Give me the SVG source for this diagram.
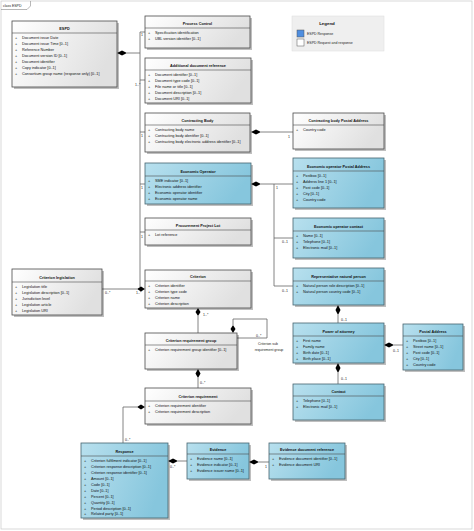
<svg xmlns="http://www.w3.org/2000/svg" width="474" height="531" viewBox="0 0 474 531">
<defs>
<linearGradient id="gw" x1="0" y1="0" x2="1" y2="0.3"><stop offset="0" stop-color="#ffffff"/><stop offset="1" stop-color="#e0e0e0"/></linearGradient>
<linearGradient id="gb" x1="0" y1="0" x2="1" y2="0.3"><stop offset="0" stop-color="#b8e0ee"/><stop offset="1" stop-color="#86c6dd"/></linearGradient>
<style>
.sh{fill:#000;opacity:0.25}
.w{fill:url(#gw);stroke:#4a4a4a;stroke-width:0.8}
.b{fill:url(#gb);stroke:#46646f;stroke-width:0.8}
.hl{stroke:#4a4a4a;stroke-width:0.6}
.t{font-family:"Liberation Sans",Arial,sans-serif;font-size:3.8px;fill:#111}
.tt{font-weight:bold;text-anchor:middle}
.l{font-family:"Liberation Sans",Arial,sans-serif;font-size:3.5px;fill:#222}
.c{fill:none;stroke:#666;stroke-width:0.8}
.d{fill:#000}
</style>
</defs>
<rect x="0" y="0" width="474" height="531" fill="#ffffff"/>
<g id="frame">
<rect x="1" y="1" width="471" height="528" fill="none" stroke="#c8c8c8" stroke-width="0.7"/>
<path d="M1,9.5 H27 L30.5,6 V1" fill="none" stroke="#888" stroke-width="0.6"/>
<text class="l" x="3" y="6.5">class ESPD</text>
</g>
<g id="legend">
<rect x="292" y="16" width="92" height="35" fill="#efefef" stroke="#dcdcdc" stroke-width="0.5"/>
<text class="t tt" x="327" y="24.5" style="font-size:4.4px">Legend</text>
<rect x="297" y="30" width="7" height="7" fill="#4f8ee0" stroke="#555" stroke-width="0.5"/>
<rect x="297" y="39" width="7" height="7" fill="#ffffff" stroke="#555" stroke-width="0.5"/>
<text class="l" x="307" y="35">ESPD Response</text>
<text class="l" x="307" y="44">ESPD Request and response</text>
</g>
<g id="connectors">
<path class="c" d="M127,53 H140 M140,32 V287 M140,32 H145 M140,80 H145 M140,132 H145 M140,184 H145 M140,232 H145"/>
<path class="d" d="M117,53 L122,50.5 L127,53 L122,55.5 Z"/>
<text class="l" x="141" y="36">1</text>
<text class="l" x="135" y="86">1..*</text>
<text class="l" x="141" y="137">1</text>
<text class="l" x="141" y="189">1</text>
<text class="l" x="141" y="238">1</text>
<path class="c" d="M261,132 H293"/>
<path class="d" d="M251,132 L256,129.5 L261,132 L256,134.5 Z"/>
<text class="l" x="288" y="138">1</text>
<path class="c" d="M261,184 H293 M274,184 V286 M274,238 H293 M274,286 H293"/>
<path class="d" d="M251,184 L256,181.5 L261,184 L256,186.5 Z"/>
<text class="l" x="276" y="189">1</text>
<text class="l" x="282" y="243">0..1</text>
<text class="l" x="282" y="292">0..1</text>
<path class="c" d="M102,289 H137"/>
<path class="d" d="M137,289 L141,286.5 L145,289 L141,291.5 Z"/>
<text class="l" x="105" y="294">0..*</text>
<text class="l" x="136" y="294">1..*</text>
<path class="c" d="M198,316 V333"/>
<path class="d" d="M198,308 L200.5,312 L198,316 L195.5,312 Z"/>
<text class="l" x="203" y="316">1..*</text>
<path class="c" d="M233,325 V319 H267 V338 H237"/>
<path class="d" d="M233,325 L235.5,329 L233,333 L230.5,329 Z"/>
<text class="l" x="256" y="337">0..*</text>
<text class="l" x="268" y="345" text-anchor="middle">Criterion sub</text>
<text class="l" x="269" y="351" text-anchor="middle">requirement group</text>
<path class="c" d="M198,378 V388"/>
<path class="d" d="M198,369 L200.5,373.5 L198,378 L195.5,373.5 Z"/>
<text class="l" x="200" y="384">0..*</text>
<path class="c" d="M137,407 H123 V443"/>
<path class="d" d="M137,407 L141,404.5 L145,407 L141,409.5 Z"/>
<text class="l" x="125" y="441">0..*</text>
<path class="c" d="M178,461 H187"/>
<path class="d" d="M168,461 L173,458.5 L178,461 L173,463.5 Z"/>
<text class="l" x="170" y="468">0..*</text>
<path class="c" d="M259,462 H269"/>
<path class="d" d="M249,462 L254,459.5 L259,462 L254,464.5 Z"/>
<text class="l" x="265" y="468">1</text>
<path class="c" d="M338,315 V323"/>
<path class="d" d="M338,305 L340.5,310 L338,315 L335.5,310 Z"/>
<text class="l" x="341" y="321">0..1</text>
<path class="c" d="M394,345 H403"/>
<path class="d" d="M384,345 L389,342.5 L394,345 L389,347.5 Z"/>
<text class="l" x="393" y="352">0..1</text>
<path class="c" d="M338,373 V384"/>
<path class="d" d="M338,363 L340.5,368 L338,373 L335.5,368 Z"/>
<text class="l" x="341" y="380">0..1</text>
</g>
<g id="espd">
<rect class="sh" x="14" y="23" width="105" height="66"/>
<rect class="w" x="12" y="21" width="105" height="66"/>
<line class="hl" x1="12" y1="33" x2="117" y2="33"/>
<text class="t tt" x="64.5" y="29.5">ESPD</text>
<text class="t" x="15" y="39.35">+</text><text class="t" x="22" y="39.35">Document issue Date</text>
<text class="t" x="15" y="45.25">+</text><text class="t" x="22" y="45.25">Document issue Time [0..1]</text>
<text class="t" x="15" y="51.15">+</text><text class="t" x="22" y="51.15">Reference Number</text>
<text class="t" x="15" y="57.05">+</text><text class="t" x="22" y="57.05">Document version ID [0..1]</text>
<text class="t" x="15" y="62.95">+</text><text class="t" x="22" y="62.95">Document identifier</text>
<text class="t" x="15" y="68.85">+</text><text class="t" x="22" y="68.85">Copy indicator [0..1]</text>
<text class="t" x="15" y="74.75">+</text><text class="t" x="22" y="74.75">Consortium group name (response only) [0..1]</text>
</g>
<g id="process-control">
<rect class="sh" x="147" y="18" width="105" height="32"/>
<rect class="w" x="145" y="16" width="105" height="32"/>
<line class="hl" x1="145" y1="28" x2="250" y2="28"/>
<text class="t tt" x="197.5" y="24.5">Process Control</text>
<text class="t" x="148" y="34.35">+</text><text class="t" x="155" y="34.35">Specification identification</text>
<text class="t" x="148" y="40.25">+</text><text class="t" x="155" y="40.25">UBL version identifier [0..1]</text>
</g>
<g id="additional-document-reference">
<rect class="sh" x="147" y="60" width="106" height="45"/>
<rect class="w" x="145" y="58" width="106" height="45"/>
<line class="hl" x1="145" y1="70" x2="251" y2="70"/>
<text class="t tt" x="198" y="66.5">Additional document reference</text>
<text class="t" x="148" y="76.35">+</text><text class="t" x="155" y="76.35">Document identifier [0..1]</text>
<text class="t" x="148" y="82.25">+</text><text class="t" x="155" y="82.25">Document type code [0..1]</text>
<text class="t" x="148" y="88.15">+</text><text class="t" x="155" y="88.15">File name or title [0..1]</text>
<text class="t" x="148" y="94.05">+</text><text class="t" x="155" y="94.05">Document description [0..1]</text>
<text class="t" x="148" y="99.95">+</text><text class="t" x="155" y="99.95">Document URI [0..1]</text>
</g>
<g id="contracting-body">
<rect class="sh" x="147" y="115" width="105" height="39"/>
<rect class="w" x="145" y="113" width="105" height="39"/>
<line class="hl" x1="145" y1="125" x2="250" y2="125"/>
<text class="t tt" x="197.5" y="121.5">Contracting Body</text>
<text class="t" x="148" y="131.35">+</text><text class="t" x="155" y="131.35">Contracting body name</text>
<text class="t" x="148" y="137.25">+</text><text class="t" x="155" y="137.25">Contracting body identifier [0..1]</text>
<text class="t" x="148" y="143.15">+</text><text class="t" x="155" y="143.15">Contracting body electronic address identifier [0..1]</text>
</g>
<g id="contracting-body-postal-address">
<rect class="sh" x="295" y="115" width="91" height="36"/>
<rect class="w" x="293" y="113" width="91" height="36"/>
<line class="hl" x1="293" y1="125" x2="384" y2="125"/>
<text class="t tt" x="338.5" y="121.5">Contracting body Postal Address</text>
<text class="t" x="296" y="131.35">+</text><text class="t" x="303" y="131.35">Country code</text>
</g>
<g id="economic-operator">
<rect class="sh" x="147" y="165" width="106" height="41"/>
<rect class="b" x="145" y="163" width="106" height="41"/>
<line class="hl" x1="145" y1="176" x2="251" y2="176"/>
<text class="t tt" x="198" y="172.5">Economic Operator</text>
<text class="t" x="148" y="182.35">+</text><text class="t" x="155" y="182.35">SME indicator [0..1]</text>
<text class="t" x="148" y="188.25">+</text><text class="t" x="155" y="188.25">Electronic address identifier</text>
<text class="t" x="148" y="194.15">+</text><text class="t" x="155" y="194.15">Economic operator identifier</text>
<text class="t" x="148" y="200.05">+</text><text class="t" x="155" y="200.05">Economic operator name</text>
</g>
<g id="economic-operator-postal-address">
<rect class="sh" x="295" y="160" width="91" height="50"/>
<rect class="b" x="293" y="158" width="91" height="50"/>
<line class="hl" x1="293" y1="171" x2="384" y2="171"/>
<text class="t tt" x="338.5" y="167.5">Economic operator Postal Address</text>
<text class="t" x="296" y="177.35">+</text><text class="t" x="303" y="177.35">Postbox [0..1]</text>
<text class="t" x="296" y="183.25">+</text><text class="t" x="303" y="183.25">Address line 1 [0..1]</text>
<text class="t" x="296" y="189.15">+</text><text class="t" x="303" y="189.15">Post code [0..1]</text>
<text class="t" x="296" y="195.05">+</text><text class="t" x="303" y="195.05">City [0..1]</text>
<text class="t" x="296" y="200.95">+</text><text class="t" x="303" y="200.95">Country code</text>
</g>
<g id="economic-operator-contact">
<rect class="sh" x="295" y="220" width="91" height="40"/>
<rect class="b" x="293" y="218" width="91" height="40"/>
<line class="hl" x1="293" y1="231" x2="384" y2="231"/>
<text class="t tt" x="338.5" y="227.5">Economic operator contact</text>
<text class="t" x="296" y="237.35">+</text><text class="t" x="303" y="237.35">Name [0..1]</text>
<text class="t" x="296" y="243.25">+</text><text class="t" x="303" y="243.25">Telephone [0..1]</text>
<text class="t" x="296" y="249.15">+</text><text class="t" x="303" y="249.15">Electronic mail [0..1]</text>
</g>
<g id="procurement-project-lot">
<rect class="sh" x="147" y="220" width="106" height="27"/>
<rect class="w" x="145" y="218" width="106" height="27"/>
<line class="hl" x1="145" y1="230" x2="251" y2="230"/>
<text class="t tt" x="198" y="226.5">Procurement Project Lot</text>
<text class="t" x="148" y="236.35">+</text><text class="t" x="155" y="236.35">Lot reference</text>
</g>
<g id="criterion-legislation">
<rect class="sh" x="14" y="271" width="90" height="46"/>
<rect class="w" x="12" y="269" width="90" height="46"/>
<line class="hl" x1="12" y1="282" x2="102" y2="282"/>
<text class="t tt" x="57" y="278.5">Criterion legislation</text>
<text class="t" x="15" y="288.35">+</text><text class="t" x="22" y="288.35">Legislation title</text>
<text class="t" x="15" y="294.25">+</text><text class="t" x="22" y="294.25">Legislation description [0..1]</text>
<text class="t" x="15" y="300.15">+</text><text class="t" x="22" y="300.15">Jurisdiction level</text>
<text class="t" x="15" y="306.05">+</text><text class="t" x="22" y="306.05">Legislation article</text>
<text class="t" x="15" y="311.95">+</text><text class="t" x="22" y="311.95">Legislation URI</text>
</g>
<g id="criterion">
<rect class="sh" x="147" y="272" width="106" height="38"/>
<rect class="w" x="145" y="270" width="106" height="38"/>
<line class="hl" x1="145" y1="281" x2="251" y2="281"/>
<text class="t tt" x="198" y="277.5">Criterion</text>
<text class="t" x="148" y="287.35">+</text><text class="t" x="155" y="287.35">Criterion identifier</text>
<text class="t" x="148" y="293.25">+</text><text class="t" x="155" y="293.25">Criterion type code</text>
<text class="t" x="148" y="299.15">+</text><text class="t" x="155" y="299.15">Criterion name</text>
<text class="t" x="148" y="305.05">+</text><text class="t" x="155" y="305.05">Criterion description</text>
</g>
<g id="criterion-requirement-group">
<rect class="sh" x="147" y="335" width="92" height="36"/>
<rect class="w" x="145" y="333" width="92" height="36"/>
<line class="hl" x1="145" y1="345" x2="237" y2="345"/>
<text class="t tt" x="191" y="341.5">Criterion requirement group</text>
<text class="t" x="148" y="351.35">+</text><text class="t" x="155" y="351.35">Criterion requirement group identifier [0..1]</text>
</g>
<g id="criterion-requirement">
<rect class="sh" x="147" y="390" width="106" height="36"/>
<rect class="w" x="145" y="388" width="106" height="36"/>
<line class="hl" x1="145" y1="401" x2="251" y2="401"/>
<text class="t tt" x="198" y="397.5">Criterion requirement</text>
<text class="t" x="148" y="407.35">+</text><text class="t" x="155" y="407.35">Criterion requirement identifier</text>
<text class="t" x="148" y="413.25">+</text><text class="t" x="155" y="413.25">Criterion requirement description</text>
</g>
<g id="response">
<rect class="sh" x="83" y="445" width="87" height="75"/>
<rect class="b" x="81" y="443" width="87" height="75"/>
<line class="hl" x1="81" y1="456" x2="168" y2="456"/>
<text class="t tt" x="124.5" y="452.5">Response</text>
<text class="t" x="84" y="462.35">+</text><text class="t" x="91" y="462.35">Criterion fulfilment indicator [0..1]</text>
<text class="t" x="84" y="468.25">+</text><text class="t" x="91" y="468.25">Criterion response description [0..1]</text>
<text class="t" x="84" y="474.15">+</text><text class="t" x="91" y="474.15">Criterion response identifier [0..1]</text>
<text class="t" x="84" y="480.05">+</text><text class="t" x="91" y="480.05">Amount [0..1]</text>
<text class="t" x="84" y="485.95">+</text><text class="t" x="91" y="485.95">Code [0..1]</text>
<text class="t" x="84" y="491.85">+</text><text class="t" x="91" y="491.85">Date [0..1]</text>
<text class="t" x="84" y="497.75">+</text><text class="t" x="91" y="497.75">Percent [0..1]</text>
<text class="t" x="84" y="503.65">+</text><text class="t" x="91" y="503.65">Quantity [0..1]</text>
<text class="t" x="84" y="509.55">+</text><text class="t" x="91" y="509.55">Period description [0..1]</text>
<text class="t" x="84" y="515.45">+</text><text class="t" x="91" y="515.45">Related party [0..1]</text>
</g>
<g id="evidence">
<rect class="sh" x="189" y="445" width="62" height="36"/>
<rect class="b" x="187" y="443" width="62" height="36"/>
<line class="hl" x1="187" y1="454" x2="249" y2="454"/>
<text class="t tt" x="218" y="450.5">Evidence</text>
<text class="t" x="190" y="460.35">+</text><text class="t" x="197" y="460.35">Evidence name [0..1]</text>
<text class="t" x="190" y="466.25">+</text><text class="t" x="197" y="466.25">Evidence indicator [0..1]</text>
<text class="t" x="190" y="472.15">+</text><text class="t" x="197" y="472.15">Evidence issuer name [0..1]</text>
</g>
<g id="evidence-document-reference">
<rect class="sh" x="271" y="445" width="76" height="36"/>
<rect class="b" x="269" y="443" width="76" height="36"/>
<line class="hl" x1="269" y1="454" x2="345" y2="454"/>
<text class="t tt" x="307" y="450.5">Evidence document reference</text>
<text class="t" x="272" y="460.35">+</text><text class="t" x="279" y="460.35">Evidence document identifier [0..1]</text>
<text class="t" x="272" y="466.25">+</text><text class="t" x="279" y="466.25">Evidence document URI</text>
</g>
<g id="representative-natural-person">
<rect class="sh" x="295" y="270" width="91" height="37"/>
<rect class="b" x="293" y="268" width="91" height="37"/>
<line class="hl" x1="293" y1="281" x2="384" y2="281"/>
<text class="t tt" x="338.5" y="277.5">Representative natural person</text>
<text class="t" x="296" y="287.35">+</text><text class="t" x="303" y="287.35">Natural person role description [0..1]</text>
<text class="t" x="296" y="293.25">+</text><text class="t" x="303" y="293.25">Natural person country code [0..1]</text>
</g>
<g id="power-of-attorney">
<rect class="sh" x="295" y="325" width="91" height="40"/>
<rect class="b" x="293" y="323" width="91" height="40"/>
<line class="hl" x1="293" y1="336" x2="384" y2="336"/>
<text class="t tt" x="338.5" y="332.5">Power of attorney</text>
<text class="t" x="296" y="342.35">+</text><text class="t" x="303" y="342.35">First name</text>
<text class="t" x="296" y="348.25">+</text><text class="t" x="303" y="348.25">Family name</text>
<text class="t" x="296" y="354.15">+</text><text class="t" x="303" y="354.15">Birth date [0..1]</text>
<text class="t" x="296" y="360.05">+</text><text class="t" x="303" y="360.05">Birth place [0..1]</text>
</g>
<g id="postal-address">
<rect class="sh" x="405" y="326" width="60" height="46"/>
<rect class="b" x="403" y="324" width="60" height="46"/>
<line class="hl" x1="403" y1="336" x2="463" y2="336"/>
<text class="t tt" x="433" y="332.5">Postal Address</text>
<text class="t" x="406" y="342.35">+</text><text class="t" x="413" y="342.35">Postbox [0..1]</text>
<text class="t" x="406" y="348.25">+</text><text class="t" x="413" y="348.25">Street name [0..1]</text>
<text class="t" x="406" y="354.15">+</text><text class="t" x="413" y="354.15">Post code [0..1]</text>
<text class="t" x="406" y="360.05">+</text><text class="t" x="413" y="360.05">City [0..1]</text>
<text class="t" x="406" y="365.95">+</text><text class="t" x="413" y="365.95">Country code</text>
</g>
<g id="contact">
<rect class="sh" x="295" y="386" width="91" height="36"/>
<rect class="b" x="293" y="384" width="91" height="36"/>
<line class="hl" x1="293" y1="396" x2="384" y2="396"/>
<text class="t tt" x="338.5" y="392.5">Contact</text>
<text class="t" x="296" y="402.35">+</text><text class="t" x="303" y="402.35">Telephone [0..1]</text>
<text class="t" x="296" y="408.25">+</text><text class="t" x="303" y="408.25">Electronic mail [0..1]</text>
</g>
</svg>
